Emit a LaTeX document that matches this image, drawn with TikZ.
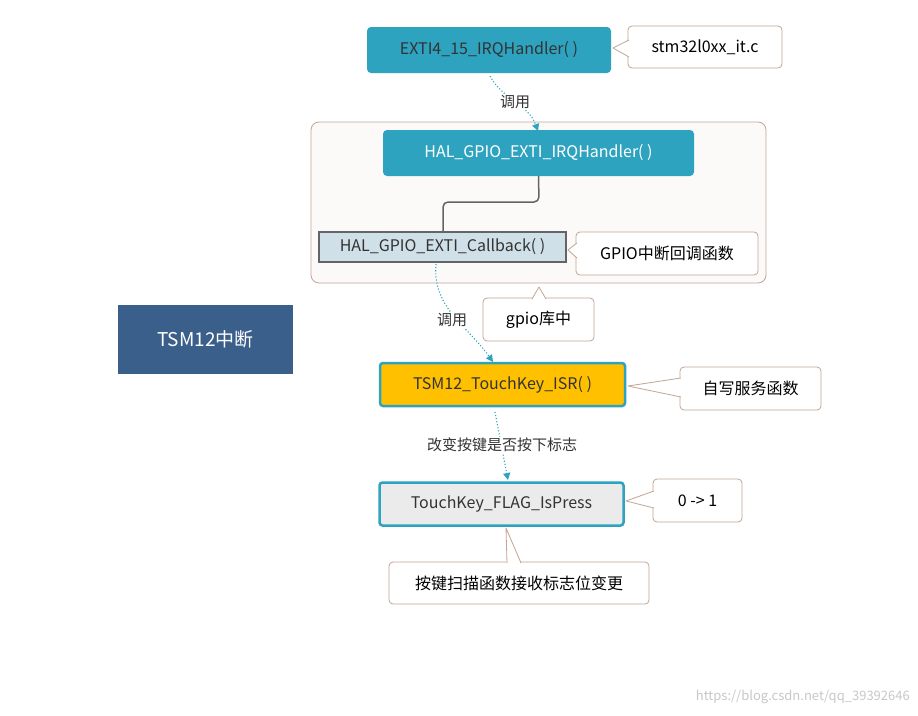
\documentclass[tikz,border=0pt]{standalone}
\usepackage{fontspec}
\setmainfont{Noto Sans CJK SC}
\usetikzlibrary{arrows.meta}
\definecolor{teal}{HTML}{2EA3BF}
\definecolor{brn}{HTML}{C4A493}
\definecolor{txt}{HTML}{333333}
\definecolor{cbfill}{RGB}{207,224,232}
\definecolor{gry}{RGB}{100,100,100}
\definecolor{navy}{RGB}{58,95,138}
\definecolor{amber}{RGB}{255,192,0}
\definecolor{lgry}{RGB}{235,235,235}
\definecolor{wmc}{RGB}{200,200,200}
\tikzset{
 bx/.style={inner sep=0pt,font=\fontsize{16}{18}\selectfont,text=txt},
 cbox/.style={bx,draw=brn,fill=white,rounded corners=4pt,line width=0.8pt,text=black},
 lab/.style={font=\fontsize{15}{17}\selectfont,text=txt,fill=white,inner sep=1pt},
 dotarr/.style={teal,dotted,line width=1.1pt,-{Triangle[width=7pt,length=7pt]}},
}
\newcommand{\ptr}[3]{\fill[white] #1--#2--#3--cycle; \draw[brn,line width=0.8pt,line join=round] #1--#2--#3;}
\begin{document}
\begin{tikzpicture}[x=1pt,y=-1pt]
\useasboundingbox[fill=white] (0,0) rectangle (918,715);
\node[draw=brn,fill=brn!6,rounded corners=8pt,line width=0.8pt,minimum width=455pt,minimum height=161pt,inner sep=0pt] (cont) at (538.5,202.5) {};
\node[bx,fill=teal,rounded corners=4pt,minimum width=244pt,minimum height=46pt] (exti) at (489,50) {EXTI4\_15\_IRQHandler( )};
\node[cbox,minimum width=154pt,minimum height=42pt] (stm) at (705,47) {stm32l0xx\_it.c};
\ptr{(629,40)}{(613,48)}{(629,57)}
\node[bx,fill=teal,rounded corners=4pt,minimum width=311pt,minimum height=46pt,text=white] (hal) at (538.5,153) {HAL\_GPIO\_EXTI\_IRQHandler( )};
\node[bx,fill=cbfill,draw=gry,line width=1.5pt,minimum width=247pt,minimum height=30pt] (cb) at (442.5,247) {HAL\_GPIO\_EXTI\_Callback( )};
\draw[gry,line width=1.5pt,rounded corners=5pt] (hal.south) -- (539,202) -- (443,202) -- (cb.north -| 443,0);
\node[cbox,minimum width=182pt,minimum height=43pt] (gcb) at (667,253.5) {GPIO中断回调函数};
\ptr{(577,243)}{(568,250)}{(577,258)}
\draw[dotarr] (exti.south) ++(1,3) coordinate (a1) to[out=-60,in=110] (538,131) coordinate (a2);
\node[lab] (l1) at (515,102) {调用};
\node[cbox,minimum width=111pt,minimum height=43pt] (gp) at (538.5,319.5) {gpio库中};
\ptr{(532,299)}{(539,287)}{(546,299)}
\node[bx,fill=navy,minimum width=175pt,minimum height=69pt,text=white,font=\fontsize{19}{21}\selectfont] (tsm) at (205.5,339.5) {TSM12中断};
\node[bx,fill=amber,draw=teal,line width=2.5pt,rounded corners=3pt,minimum width=245pt,minimum height=43pt] (isr) at (502.5,384.5) {TSM12\_TouchKey\_ISR( )};
\draw[dotarr] (436,264) coordinate (b1) to[out=-95,in=125] (493,362) coordinate (b2);
\node[lab] (l2) at (452,320) {调用};
\node[cbox,minimum width=141pt,minimum height=43pt] (zx) at (750.5,388.5) {自写服务函数};
\ptr{(681,378)}{(628,386)}{(681,397)}
\node[bx,fill=lgry,draw=teal,line width=2.5pt,rounded corners=3pt,minimum width=244pt,minimum height=43pt] (flag) at (501.5,504) {TouchKey\_FLAG\_IsPress};
\draw[dotarr] (495,412) coordinate (c1) -- (508,480) coordinate (c2);
\node[lab] (l3) at (502,445) {改变按键是否按下标志};
\node[cbox,minimum width=89pt,minimum height=43pt] (z1) at (697.5,500.5) {0 -> 1};
\ptr{(654,491)}{(626,501)}{(654,508)}
\node[cbox,minimum width=260pt,minimum height=42pt] (scan) at (519,583) {按键扫描函数接收标志位变更};
\ptr{(507,563)}{(506,528)}{(521,563)}
\node[font=\fontsize{13}{15}\selectfont,text=wmc,anchor=east,inner sep=0pt] (wm) at (910,697) {https://blog.csdn.net/qq\_39392646};
\end{tikzpicture}
\end{document}
